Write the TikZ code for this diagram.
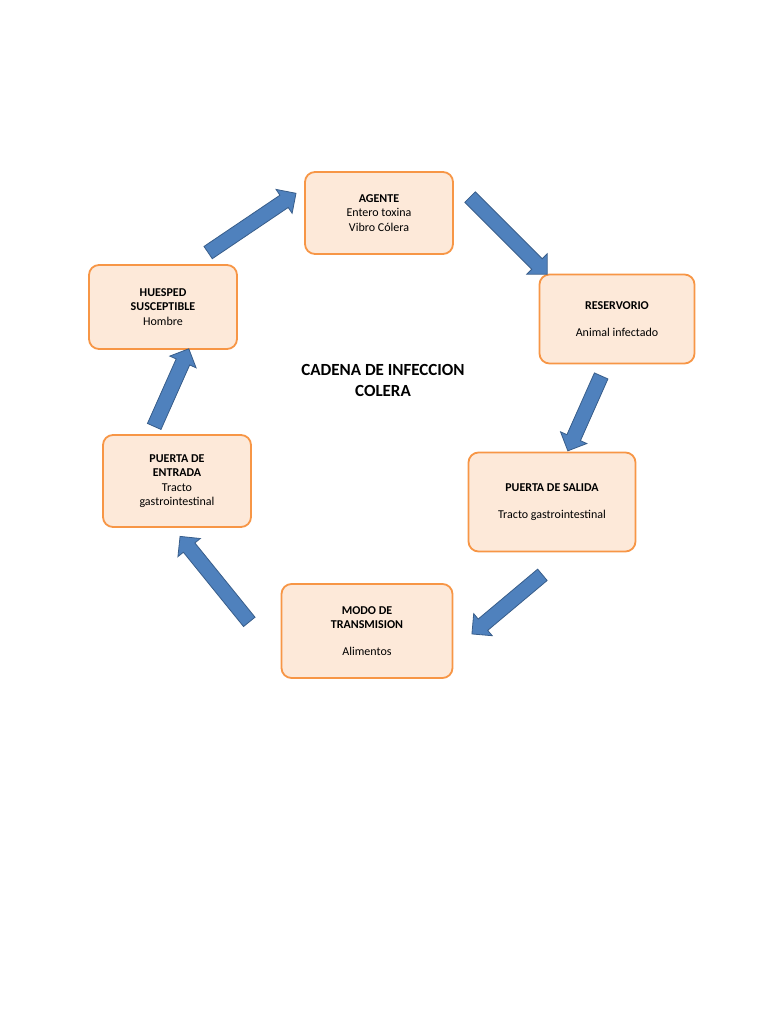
\documentclass[tikz,border=0pt]{standalone}
\usepackage{fontspec}
\setmainfont{Carlito}
\usetikzlibrary{shapes.arrows,positioning}
\definecolor{boxline}{HTML}{F79646}
\definecolor{boxfill}{HTML}{FDE9D9}
\definecolor{arrowfill}{HTML}{4F81BD}
\definecolor{arrowline}{HTML}{385D8A}

\begin{document}
\begin{tikzpicture}[
    x=1pt,y=-1pt,
    box/.style={rectangle,rounded corners=10pt,draw=boxline,fill=boxfill,
        line width=1.8pt,align=center,font=\fontsize{12}{14.5}\selectfont},
    barrow/.style={single arrow,draw=arrowline,fill=arrowfill,thick,
        inner sep=7pt,single arrow head extend=7pt,
        single arrow head indent=0pt},
    ]
    \useasboundingbox (0,0) rectangle (768,1024);
    % boxes of the chain
    \node[box,minimum width=148pt,minimum height=82pt] (agente) at (379,213)
        {\textbf{AGENTE}\\Entero toxina\\Vibro Cólera};
    \node[box,minimum width=155pt,minimum height=89pt] (reservorio) at (617,319)
        {\textbf{RESERVORIO}\\[12pt]Animal infectado};
    \node[box,minimum width=167pt,minimum height=99pt] (salida) at (552,502)
        {\textbf{PUERTA DE SALIDA}\\[12pt]Tracto gastrointestinal};
    \node[box,minimum width=171pt,minimum height=94pt] (modo) at (367,631)
        {\textbf{MODO DE}\\\textbf{TRANSMISION}\\[12pt]Alimentos};
    \node[box,minimum width=148pt,minimum height=92pt] (entrada) at (177,481)
        {\textbf{PUERTA DE}\\\textbf{ENTRADA}\\Tracto\\gastrointestinal};
    \node[box,minimum width=148pt,minimum height=84pt] (huesped) at (163,307)
        {\textbf{HUESPED}\\\textbf{SUSCEPTIBLE}\\Hombre};
    \node[align=center,font=\fontsize{17}{21}\selectfont\bfseries] (titulo)
        at (383,380) {CADENA DE INFECCION\\COLERA};
    % block arrows
    \node[barrow,minimum height=106pt,rotate=34] (f1) at (249,225) {};
    \node[barrow,minimum height=109pt,rotate=-45] (f2) at (506,233) {};
    \node[barrow,minimum height=82pt,rotate=-114] (f3) at (586,410) {};
    \node[barrow,minimum height=92pt,rotate=-140] (f4) at (510,602) {};
    \node[barrow,minimum height=110pt,rotate=129] (f5) at (217,582) {};
    \node[barrow,minimum height=85pt,rotate=66] (f6) at (170,391) {};
\end{tikzpicture}
\end{document}
